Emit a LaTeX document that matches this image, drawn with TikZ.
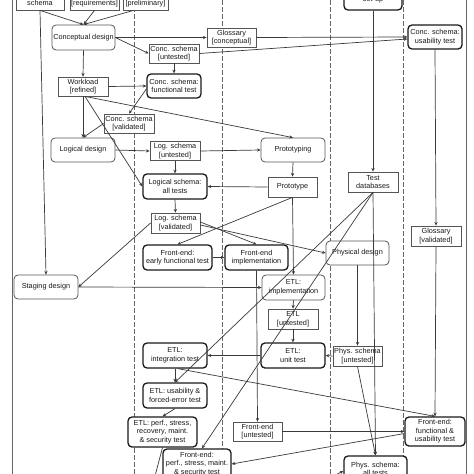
\documentclass[tikz,border=0pt]{standalone}
\usepackage{fontspec}
\setmainfont{Liberation Sans}
\usetikzlibrary{arrows.meta,calc}
\definecolor{linec}{HTML}{3A3A3A}
\definecolor{boxc}{HTML}{555555}
\definecolor{lanec}{HTML}{666666}
\begin{document}
\begin{tikzpicture}[x=1pt,y=-1pt,
  every node/.style={font=\fontsize{7.3}{8.6}\selectfont, text=black!90, align=center, inner sep=0pt},
  box/.style={draw=boxc, line width=0.8pt, fill=white},
  rbox/.style={box, rounded corners=4pt},
  tbox/.style={draw=black!90, line width=1.3pt, fill=white, rounded corners=4pt},
  conn/.style={draw=linec, line width=0.7pt, -{Stealth[length=3.6pt,width=3.2pt]}},
  plainconn/.style={draw=linec, line width=0.7pt},
  lane/.style={draw=lanec, line width=0.8pt, dash pattern=on 4.5pt off 2.5pt},
  framel/.style={draw=lanec, line width=0.9pt}]
\useasboundingbox (0,0) rectangle (474,474);
\fill[white] (0,0) rectangle (474,474);
\clip (0,0) rectangle (474,474);
% lanes
\draw[framel] (12,0) -- (12,474);
\draw[framel] (466,0) -- (466,474);
\draw[lane] (134,0) -- (134,474);
\draw[lane] (222,0) -- (222,474);
\draw[lane] (330,0) -- (330,474);
\draw[lane] (403,0) -- (403,474);
% nodes
\node[box, minimum width=48pt, minimum height=17pt] (schema) at (40,1.5) {\mbox{}\\schema};
\node[box, minimum width=49pt, minimum height=17pt] (req) at (94.5,1.5) {\mbox{}\\{}[requirements]};
\node[box, minimum width=45pt, minimum height=17pt] (prel) at (145.5,1.5) {\mbox{}\\{}[preliminary]};
\node[tbox, minimum width=58pt, minimum height=24pt] (setup) at (373,-2) {\mbox{}\\set-up};
\node[rbox, minimum width=63pt, minimum height=25pt] (cdes) at (83.5,37.5) {Conceptual design};
\node[box, minimum width=49pt, minimum height=19pt] (glc) at (231.5,37.5) {Glossary\\{}[conceptual]};
\node[tbox, minimum width=54pt, minimum height=24pt] (csu) at (435,37) {Conc. schema:\\usability test};
\node[box, minimum width=50pt, minimum height=19pt] (csun) at (174,53.5) {Conc. schema\\{}[untested]};
\node[tbox, minimum width=54pt, minimum height=24pt] (csft) at (174,86) {Conc. schema:\\functional test};
\node[box, minimum width=50pt, minimum height=19pt] (wl) at (83,86.5) {Workload\\{}[refined]};
\node[box, minimum width=50pt, minimum height=19pt] (csv) at (129,123.5) {Conc. schema\\{}[validated]};
\node[rbox, minimum width=64pt, minimum height=24pt] (ldes) at (83,150) {Logical design};
\node[box, minimum width=50pt, minimum height=19pt] (lsun) at (175,151) {Log. schema\\{}[untested]};
\node[rbox, minimum width=64pt, minimum height=24pt] (proto) at (293,150) {Prototyping};
\node[tbox, minimum width=64pt, minimum height=25pt] (lsat) at (175,186.5) {Logical schema:\\all tests};
\node[box, minimum width=49pt, minimum height=20pt] (ptype) at (292.5,187) {Prototype};
\node[box, minimum width=50pt, minimum height=20pt] (tdb) at (373,182) {Test\\databases};
\node[box, minimum width=49pt, minimum height=20pt] (lsv) at (175.5,223) {Log. schema\\{}[validated]};
\node[box, minimum width=50pt, minimum height=20pt] (glv) at (436,236) {Glossary\\{}[validated]};
\node[rbox, minimum width=63pt, minimum height=24pt] (pdes) at (357.5,253) {Physical design};
\node[tbox, minimum width=69pt, minimum height=25pt] (feeft) at (177.5,257.5) {Front-end:\\early functional test};
\node[tbox, minimum width=63pt, minimum height=25pt] (feimp) at (256.5,257.5) {Front-end\\implementation};
\node[rbox, minimum width=64pt, minimum height=24pt] (stg) at (46,287) {Staging design};
\node[rbox, minimum width=63pt, minimum height=25pt] (etlimp) at (293.5,287.5) {ETL:\\implementation};
\node[box, minimum width=50pt, minimum height=20pt] (etlun) at (293,319) {ETL\\{}[untested]};
\node[tbox, minimum width=64pt, minimum height=25pt] (etlut) at (293,355.5) {ETL:\\unit test};
\node[box, minimum width=49pt, minimum height=20pt] (psun) at (357.5,356) {Phys. schema\\{}[untested]};
\node[tbox, minimum width=64pt, minimum height=25pt] (etlit) at (175,355.5) {ETL:\\integration test};
\node[tbox, minimum width=64pt, minimum height=25pt] (etlus) at (175,395.5) {ETL: usability \&\\forced-error test};
\node[tbox, minimum width=69pt, minimum height=30pt] (etlperf) at (162.5,432) {ETL: perf., stress,\\recovery, maint.\\\& security test};
\node[box, minimum width=49pt, minimum height=19pt] (feun) at (257.5,431.5) {Front-end\\{}[untested]};
\node[tbox, minimum width=60pt, minimum height=29pt] (fefu) at (435,431.5) {Front-end:\\functional \&\\usability test};
\node[tbox, minimum width=68pt, minimum height=30pt] (feperf) at (197,464) {Front-end:\\perf., stress, maint.\\\& security test};
\node[tbox, minimum width=63pt, minimum height=26pt] (psat) at (375.5,469) {Phys. schema:\\all tests};
\coordinate (offA) at (150,495);
\coordinate (offB) at (305,490);
% connectors
\draw[conn] (schema.south) -- (cdes.north);
\draw[conn] (req.south) -- (cdes.north);
\draw[conn] ($(prel.south)+(-12,0)$) -- (cdes.north);
\draw[conn] (schema.south) -- (stg.north);
\draw[conn] (cdes.east) -- (glc.west);
\draw[conn] (glc.east) -- (csu.west);
\draw[conn] (cdes.east) -- (csun.west);
\draw[conn] (csun.east) -- ($(csu.west)+(0,2)$);
\draw[conn] (csun.south) -- (csft.north);
\draw[conn] (cdes.south) -- (wl.north);
\draw[conn] (wl.east) -- (csft.west);
\draw[conn] ($(csft.west)+(0,3)$) -- (csv.north);
\draw[conn] (wl.south) -- (ldes.north);
\draw[conn] (csv.west) -- (ldes.north);
\draw[conn] ($(wl.south)+(2,0)$) -- (lsat.west);
\draw[conn] ($(wl.south)+(2,0)$) -- (proto.north);
\draw[conn] (ldes.east) -- (lsun.west);
\draw[conn] (lsun.east) -- (proto.west);
\draw[conn] (lsun.south) -- (lsat.north);
\draw[conn] (proto.south) -- (ptype.north);
\draw[conn] (ptype.west) -- (lsat.east);
\draw[conn] (lsat.south) -- (lsv.north);
\draw[conn] (lsv.west) -- (stg.east);
\draw[conn] ($(lsv.east)+(0,-1)$) -- (feimp.north);
\draw[conn] ($(lsv.east)+(0,2)$) -- (pdes.west);
\draw[conn] (ptype.south) -- (feeft.north);
\draw[conn] (ptype.south) -- (etlimp.north);
\draw[conn] (feeft.east) -- (feimp.west);
\draw[conn] (stg.east) -- (etlimp.west);
\draw[conn] (setup.south) -- (tdb.north);
\draw[conn] (tdb.south) -- (psat.north);
\draw[conn] (tdb.south) -- (etlus.north);
\draw[conn] (tdb.south) -- ($(feperf.north)+(5,0)$);
\draw[conn] (csu.south) -- (glv.north);
\draw[conn] (glv.south) -- (fefu.north);
\draw[conn] (pdes.south) -- (psun.north);
\draw[conn] (psun.west) -- (etlut.east);
\draw[conn] (etlimp.south) -- (etlun.north);
\draw[conn] (etlun.south) -- (etlut.north);
\draw[conn] (etlut.west) -- (etlit.east);
\draw[conn] (etlit.south) -- (etlus.north);
\draw[conn] (etlus.south) -- (etlperf.north);
\draw[conn] ($(etlit.south)+(3,0)$) -- (fefu.north);
\draw[conn] (psun.south) -- (psat.north);
\draw[conn] (feimp.south) -- (feun.north);
\draw[conn] (feun.east) -- (fefu.west);
\draw[conn] ($(fefu.west)+(0,2)$) -- (feperf.east);
\draw[plainconn] (etlperf.south) -- (offA);
\draw[conn] (offB) -- ($(psat.west)+(0,2)$);
\end{tikzpicture}
\end{document}
